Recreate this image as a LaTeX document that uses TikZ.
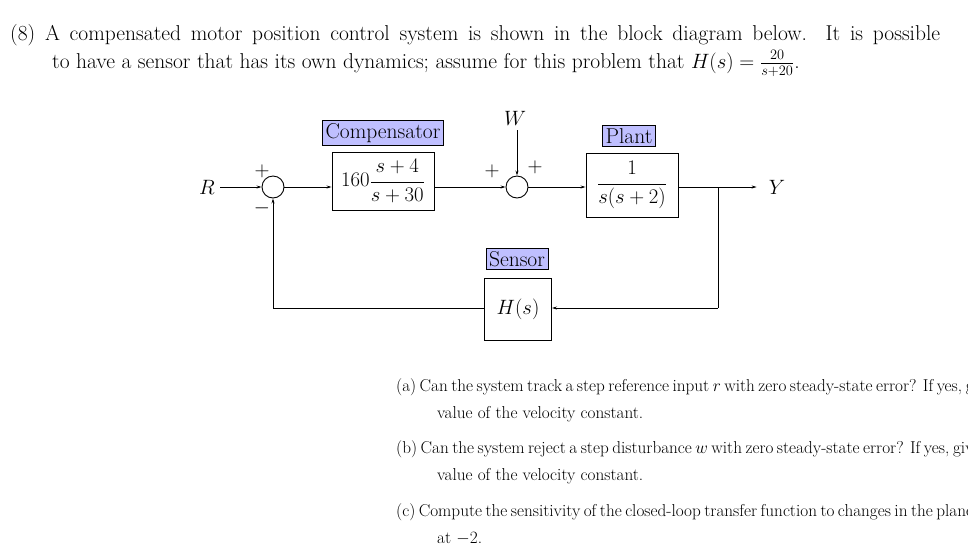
\documentclass[tikz,border=0pt]{standalone}
\usetikzlibrary{arrows.meta}
\begin{document}
\begin{tikzpicture}[x=1pt,y=-1pt,
  every node/.style={font=\fontsize{21.5}{26}\selectfont, inner sep=0pt},
  lbl/.style={draw, fill=blue!25, line width=0.9pt, inner xsep=3pt, inner ysep=3pt},
  sum/.style={draw, circle, minimum size=22pt, line width=0.9pt},
  ln/.style={line width=0.9pt},
  arr/.style={line width=0.9pt, -{Stealth[length=5pt,width=3pt]}},
  txt/.style={anchor=base west},
  itm/.style={anchor=base west, font=\fontsize{17.2}{21}\selectfont}]
\useasboundingbox (0,0) rectangle (968,550);
% text
\node[txt] (t1) at (10,40) {\makebox[930pt][s]{(8) A compensated motor position control system is shown in the block diagram below. It is possible}};
\node[txt] (t2) at (52,68) {to have a sensor that has its own dynamics; assume for this problem that $H(s)=\frac{20}{s+20}$.};
\node[itm] (a1) at (396,391) {\makebox[544pt][s]{(a) Can the system track a step reference input $r$ with zero steady-state error? If yes, give the}};
\node[itm] (a2) at (437,418) {value of the velocity constant.};
\node[itm] (b1) at (396,453) {\makebox[544pt][s]{(b) Can the system reject a step disturbance $w$ with zero steady-state error? If yes, give the}};
\node[itm] (b2) at (437,480) {value of the velocity constant.};
\node[itm] (c1) at (396,516) {\makebox[544pt][s]{(c) Compute the sensitivity of the closed-loop transfer function to changes in the plane pole}};
\node[itm] (c2) at (437,543) {at $-2$.};
% diagram
\node (R) at (207,187) {$R$};
\node[sum] (s1) at (273,187) {};
\node (p1) at (262,171) {$+$};
\node (m1) at (262,208) {$-$};
\node[draw, line width=0.9pt, minimum width=102pt, minimum height=58pt] (C) at (383,181) {$\displaystyle 160\frac{s+4}{s+30}$};
\node[lbl] (CL) at (383,133) {Compensator};
\node (W) at (515,118) {$W$};
\coordinate (wt) at (517,130);
\node[sum] (s2) at (517,187) {};
\node (p2) at (492,171) {$+$};
\node (p3) at (535,167) {$+$};
\node[draw, line width=0.9pt, minimum width=92pt, minimum height=64pt] (P) at (632,185) {$\displaystyle\frac{1}{s(s+2)}$};
\node[lbl] (PL) at (629,136) {Plant};
\node (Y) at (777,187) {$Y$};
\node[draw, line width=0.9pt, minimum width=67pt, minimum height=62pt] (S) at (518,309) {$H(s)$};
\node[lbl] (SL) at (517,259) {Sensor};
\coordinate (br) at (718,187);
\coordinate (brd) at (718,308);
\coordinate (fl) at (273,308);
\draw[arr] (R) ++(13,0) -- (s1.west);
\draw[arr] (s1.east) -- (C.west |- s1);
\draw[arr] (C.east |- s2) -- (s2.west);
\draw[arr] (wt) -- (s2.north);
\draw[arr] (s2.east) -- (P.west |- s2);
\draw[arr] (P.east |- s2) -- ([xshift=-12pt]Y.west);
\draw[ln] (br) -- (brd);
\draw[arr] (brd) -- (S.east |- brd);
\draw[arr] (S.west |- fl) -- (fl) -- (s1.south);
\end{tikzpicture}
\end{document}
